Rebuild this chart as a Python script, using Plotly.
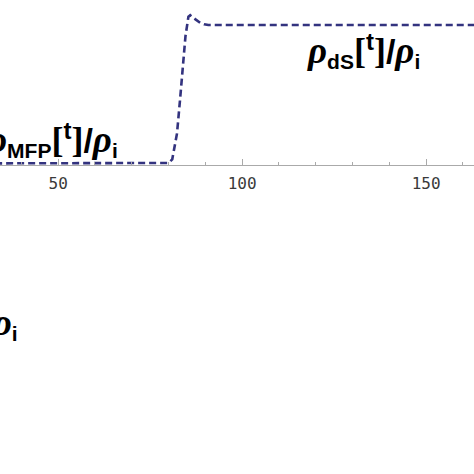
import plotly.graph_objects as go

# time and curve values
t = [0, 20, 40, 60, 70, 78, 80, 81, 82.3, 83.1, 83.9, 84.6, 85.4, 85.9, 86.8, 87.7, 88.6, 89.7, 90.8, 95, 100, 120, 140, 160, 170]
rho = [0.01, 0.01, 0.01, 0.01, 0.01, 0.01, 0.015, 0.04, 0.226, 0.46, 0.70, 0.92, 1.06, 1.07, 1.05, 1.03, 1.016, 1.005, 1.0, 1.0, 1.0, 1.0, 1.0, 1.0, 1.0]

tick_vals = [50, 100, 150]
tick_text = ["50", "100", "150"]

fig = go.Figure()
fig.add_trace(go.Scatter(x=t, y=rho, mode='lines',
                         line=dict(color='#33337f', width=2.6, dash='7px,4px'),
                         hoverinfo='none', showlegend=False))

fig.update_layout(
    width=474, height=474,
    margin=dict(l=0, r=0, t=0, b=0),
    paper_bgcolor='white', plot_bgcolor='white',
    xaxis=dict(range=[34.2, 163.0], anchor='free', position=1 - 165 / 474,
               showgrid=False, zeroline=False,
               showline=True, linecolor='#aaaaaa', linewidth=1,
               tickmode='array', tickvals=tick_vals, ticktext=tick_text,
               ticks='inside', ticklen=6, tickcolor='#aaaaaa',
               ticklabelstandoff=4,
               minor=dict(dtick=10, ticks='inside', ticklen=3, tickcolor='#aaaaaa'),
               tickfont=dict(family='DejaVu Sans Mono', size=16, color='#3a3a3a')),
    yaxis=dict(range=[-2.207, 1.179], visible=False),
)


def label(sub):
    rho_s = "<span style='font-family:Liberation Serif;font-size:37px'><i>ρ</i></span>"
    br = "<span style='font-family:Liberation Serif;font-size:36px'>%s</span>"
    return ("<b>" + rho_s + "<sub>" + sub + "</sub>" + br % "["
            + "<sup><span style='font-size:24px'>t</span></sup>" + br % "]"
            + "<span style='font-size:34px'>/</span>" + rho_s + "<sub>i</sub></b>")


lab_font = dict(family='Liberation Sans', size=30, color='black')
fig.add_annotation(x=363 / 474, y=1 - 50 / 474, xref='paper', yref='paper', showarrow=False,
                   xanchor='center', yanchor='middle', text=label('dS'), font=lab_font)
fig.add_annotation(x=120 / 474, y=1 - 139 / 474, xref='paper', yref='paper', showarrow=False,
                   xanchor='right', yanchor='middle', text=label('MFP'), font=lab_font)
fig.add_annotation(x=20 / 474, y=1 - 322 / 474, xref='paper', yref='paper', showarrow=False,
                   xanchor='right', yanchor='middle', text=label('B'), font=lab_font)

fig.write_html("out.html", config={'displayModeBar': False},
               post_script="document.body.style.margin='0';")
